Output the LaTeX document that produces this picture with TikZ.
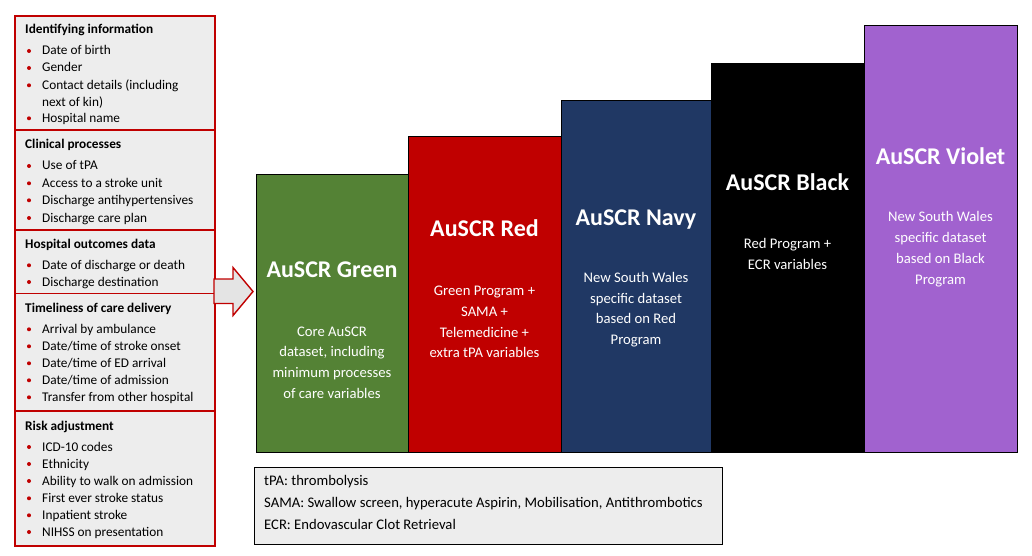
\documentclass[tikz,border=0pt]{standalone}
\usepackage{fontspec}
\setmainfont{Carlito}
\usepackage{xcolor}
\definecolor{auRed}{HTML}{C00000}
\definecolor{auGreen}{HTML}{548235}
\definecolor{auNavy}{HTML}{203864}
\definecolor{auViolet}{HTML}{A162CF}
\definecolor{panelGrey}{HTML}{EDEDED}
\definecolor{arrowGrey}{HTML}{E4E4E4}
\tikzset{
    section/.style={draw=auRed, fill=panelGrey, line width=1.6pt, anchor=north west, inner sep=0pt, minimum width=200pt},
    heading/.style={anchor=base west, inner sep=0pt, font=\fontsize{13.3}{16.8}\selectfont\bfseries},
    item/.style={anchor=base west, inner sep=0pt, align=left, font=\fontsize{13.3}{16.8}\selectfont},
    dot/.style={circle, fill=auRed, inner sep=0pt, minimum size=4pt},
    prog/.style={draw=black, line width=0.8pt, anchor=south west, inner sep=0pt},
    progtitle/.style={anchor=base, inner sep=0pt, text=white, font=\fontsize{24}{28}\selectfont\bfseries},
    progtext/.style={anchor=base, inner sep=0pt, text=white, align=center, font=\fontsize{14.67}{20.8}\selectfont},
    legendbox/.style={draw=black, fill=panelGrey, line width=0.8pt, anchor=north west, inner sep=0pt},
    legendtext/.style={anchor=base west, inner sep=0pt, align=left, font=\fontsize{14.67}{22}\selectfont}
}
\begin{document}
\begin{tikzpicture}[x=1pt,y=-1pt]
\useasboundingbox (0,0) rectangle (1032,556);
% data panel on the left (multi-line texts are placed by their last baseline)
\foreach \top/\bot [count=\i] in {15/129.5, 129.5/229, 229/292.5, 292.5/410, 410/545}{
\node[section, minimum height={(\bot-\top)*1pt}] (sec\i) at (14,\top) {};
}
\foreach \y/\t [count=\i] in {33.3/Identifying information, 149/Clinical processes, 248.3/Hospital outcomes data, 312.3/Timeliness of care delivery, 430/Risk adjustment}{
\node[heading] (head\i) at (25,\y) {\t};
}
\foreach \y/\t/\b [count=\i] in {55/Date of birth/55, 72/Gender/72, 106.1/{Contact details (including\\next of kin)}/89.3, 122.3/Hospital name/122.3,
170/Use of tPA/170, 187.3/Access to a stroke unit/187.3, 204.3/Discharge antihypertensives/204.3, 222/Discharge care plan/222,
269.3/Date of discharge or death/269.3, 286/Discharge destination/286,
333.3/Arrival by ambulance/333.3, 350.3/{Date/time of stroke onset}/350.3, 367.3/{Date/time of ED arrival}/367.3, 384.3/{Date/time of admission}/384.3, 401.3/Transfer from other hospital/401.3,
451/ICD-10 codes/451, 468/Ethnicity/468, 485/Ability to walk on admission/485, 502.3/First ever stroke status/502.3, 519.3/Inpatient stroke/519.3, 536/NIHSS on presentation/536}{
\node[dot] (dot\i) at (29,\b-4) {};
\node[item] (item\i) at (42,\y) {\t};
}
% block arrow into the programs
\draw[draw=auRed, fill=arrowGrey, line width=1.4pt, line join=miter] (214,279) -- (233,279) -- (233,267.5) -- (253,291.5) -- (233,315.5) -- (233,303.5) -- (214,303.5) -- cycle;
% program boxes
\foreach \n/\x/\w/\top/\col/\ty/\dy/\title/\desc in {
green/256/152/175/auGreen/277.5/398.4/{AuSCR Green}/{Core AuSCR\\dataset, including\\minimum processes\\of care variables},
red/408/153/137/auRed/236.7/357.9/{AuSCR Red}/{Green Program +\\SAMA +\\Telemedicine +\\extra tPA variables},
navy/561/150/101/auNavy/225/344.7/{AuSCR Navy}/{New South Wales\\specific dataset\\based on Red\\Program},
black/711/153/64/black/190.3/269.1/{AuSCR Black}/{Red Program +\\ECR variables},
violet/864/153/26/auViolet/164.3/284.1/{AuSCR Violet}/{New South Wales\\specific dataset\\based on Black\\Program}}{
\node[prog, fill=\col, minimum width=\w pt, minimum height={(453-\top)*1pt}] (\n) at (\x,453) {};
\node[progtitle] (\n-title) at ({\x+\w/2},\ty) {\title};
\node[progtext] (\n-text) at ({\x+\w/2},\dy) {\desc};
}
% abbreviations
\node[legendbox, minimum width=468pt, minimum height=77pt] (legend) at (254,467) {};
\node[legendtext] (legend-text) at (264,529) {tPA: thrombolysis\\SAMA: Swallow screen, hyperacute Aspirin, Mobilisation, Antithrombotics\\ECR: Endovascular Clot Retrieval};
\end{tikzpicture}
\end{document}
